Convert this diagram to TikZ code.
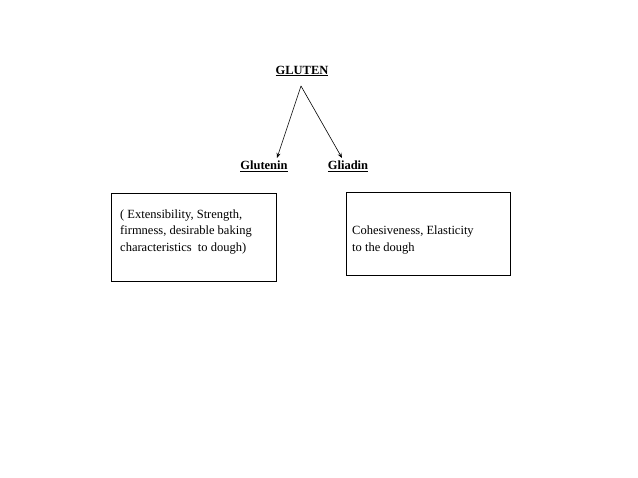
\documentclass[tikz,border=0pt]{standalone}
\usepackage{fontspec}
\setmainfont{Liberation Serif}
\usetikzlibrary{arrows.meta}
\begin{document}
\begin{tikzpicture}[x=1pt,y=-1pt,
  lbl/.style={font=\fontsize{12.5}{14}\selectfont\bfseries,inner sep=1pt},
  box/.style={draw,line width=0.6pt,minimum width=165pt,anchor=north west,inner sep=0pt},
  txt/.style={font=\fontsize{12.5}{16.5}\selectfont,align=left,anchor=west,inner sep=0pt},
  arr/.style={-{Stealth[length=5pt,width=4pt]},line width=0.6pt}]
\useasboundingbox (0,0) rectangle (638,478);
\node[lbl] (gluten) at (302,71) {\underline{GLUTEN}};
\node[lbl] (glutenin) at (264,166) {\underline{Glutenin}};
\node[lbl] (gliadin) at (348,166) {\underline{Gliadin}};
\coordinate (apex) at (301,86);
\draw[arr] (apex) -- (277,158);
\draw[arr] (apex) -- (342,158);
\draw[line width=0.6pt] (111,193) rectangle (276,281);
\draw[line width=0.6pt] (346,192) rectangle (510,275);
\node[txt] (lt) at (120,232) {( Extensibility, Strength,\\firmness, desirable baking\\characteristics\ \ to dough)};
\node[txt] (rt) at (352,240) {Cohesiveness, Elasticity\\to the dough};
\end{tikzpicture}
\end{document}
